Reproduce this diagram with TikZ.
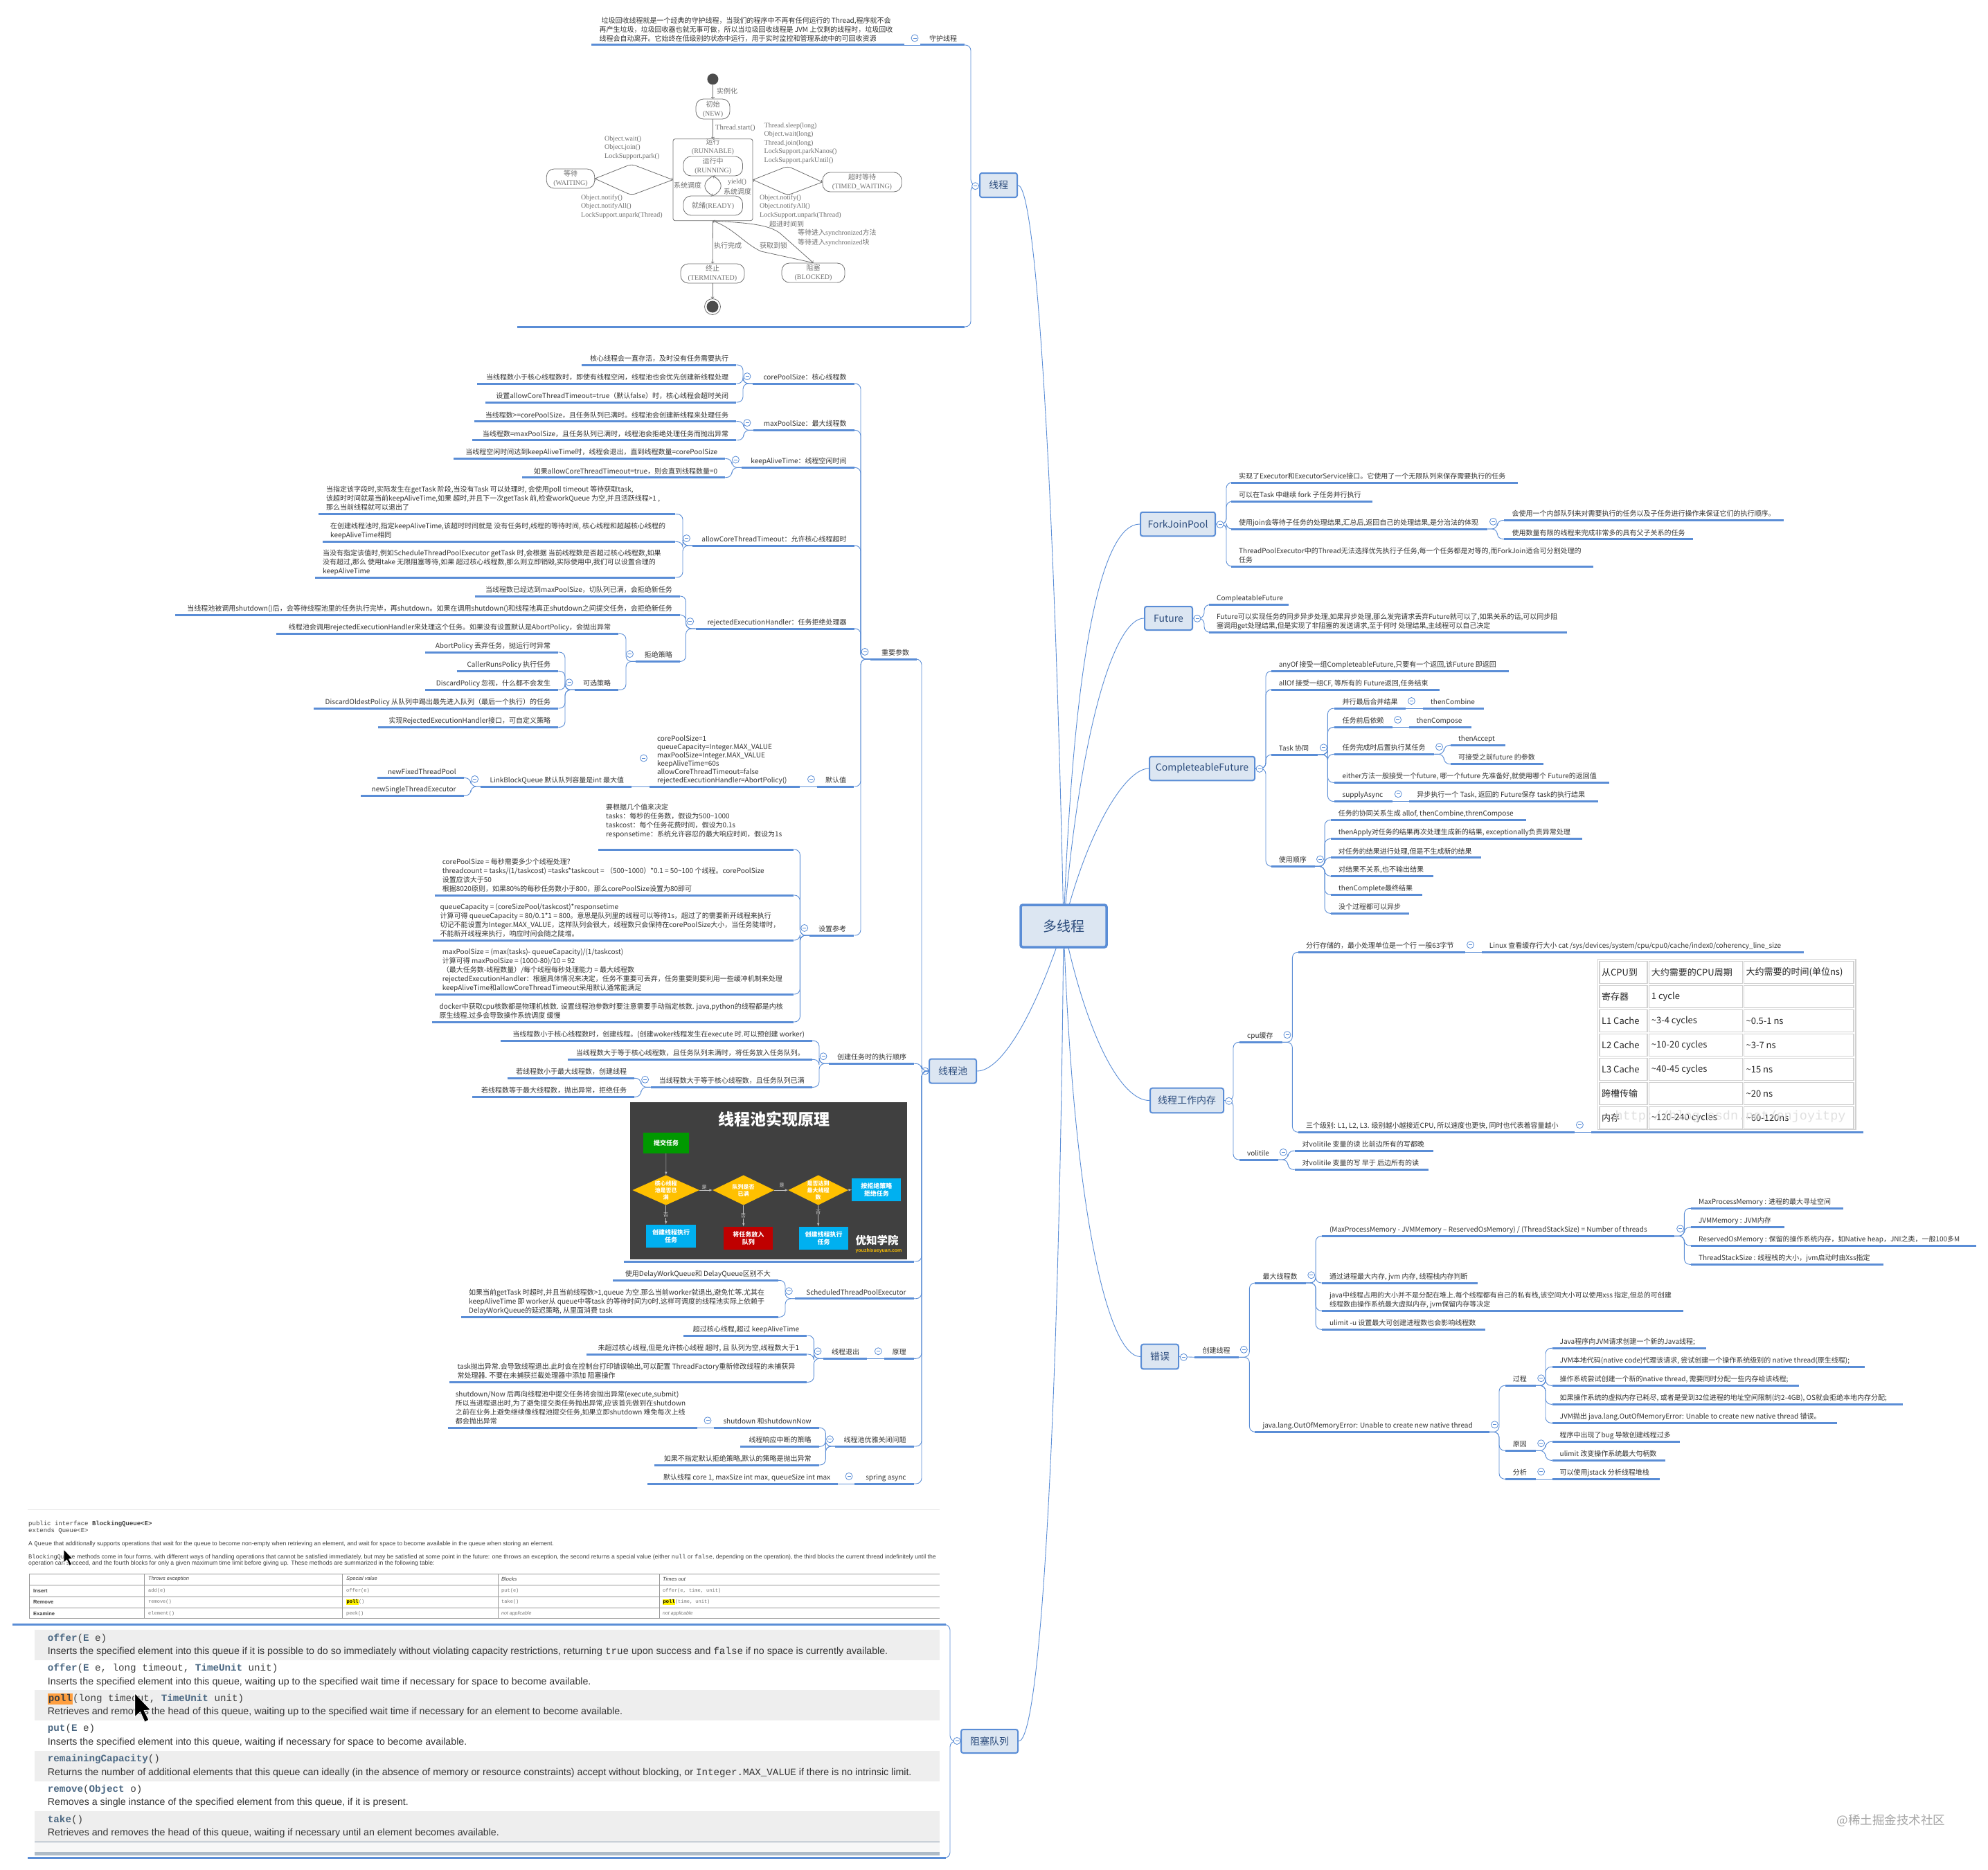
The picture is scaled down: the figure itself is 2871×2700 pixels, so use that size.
\documentclass[tikz,border=0pt]{standalone}
\usepackage{fontspec}
\setmainfont{Noto Sans CJK SC}
\setmonofont{Liberation Mono}
\newfontfamily\serifen{Liberation Serif}
\newfontfamily\sansen{Liberation Sans}
\usetikzlibrary{shapes.geometric}
\usetikzlibrary{positioning}

\definecolor{mapblue}{HTML}{5A8DD6}
\definecolor{boxblue}{HTML}{DCE6F2}
\definecolor{boxtext}{HTML}{2C4C7C}
\definecolor{stategray}{HTML}{707070}
\definecolor{imgdark}{HTML}{404040}
\definecolor{imgcyan}{HTML}{00B0F0}
\definecolor{imggold}{HTML}{FFC000}
\definecolor{docband}{HTML}{EEEEEE}
\definecolor{doclink}{HTML}{4A6782}

\newlength\tpcw
\newlength\tpcpad
\setlength\tpcpad{11pt}
\newcommand{\tpc}[6]{%
  \pgfmathsetlength\tpcw{#3-#2}%
  \node[topic,minimum width=\tpcw,anchor=south west] (#1) at (#2,#4)
    {\makebox[\dimexpr\tpcw-2\tpcpad\relax][#5]{\begin{tabular}{@{}l@{}}#6\end{tabular}}};
  \draw[uline] (#1.south west) -- (#1.south east);}
\newcommand{\foldm}[3]{\node[foldmark] (#1) at (#2,#3) {};}
\newcommand{\brl}[3]{\foreach \kid in {#3} {\draw[link] (#1) -- ++(-#2,0) |- (\kid.south east);}}
\newcommand{\brr}[3]{\foreach \kid in {#3} {\draw[link] (#1) -- ++(#2,0) |- (\kid.south west);}}
\newcommand{\lk}[1]{\textbf{\textcolor{doclink}{#1}}}
\newcommand{\hly}[1]{{\setlength\fboxsep{.5pt}\colorbox{yellow}{\textbf{\textcolor{black}{#1}}}}}
\newcommand{\pointer}[3]{\draw[cursormark,shift={(#1,#2)},scale=#3] (0,0) -- (0,.78) -- (.18,.62) -- (.33,.95) -- (.46,.88) -- (.31,.57) -- (.52,.55) -- cycle;}

\begin{document}
\begin{tikzpicture}[x=1pt,y=-1pt,
    topic/.style={inner xsep=\tpcpad,inner ysep=1.5pt,text=black!80,font=\fontsize{10}{13}\selectfont},
    uline/.style={draw=mapblue,line width=3pt},
    link/.style={draw=mapblue,line width=.9pt,rounded corners=8pt},
    foldmark/.style={circle,draw=mapblue,fill=white,line width=.8pt,minimum size=10pt,inner sep=0pt,
        path picture={\draw[mapblue,line width=.8pt] (path picture bounding box.center) ++(-2.5,0) -- ++(5,0);}},
    mainbox/.style={rectangle,rounded corners=3pt,draw=mapblue,fill=boxblue,line width=2pt,text=boxtext,
        inner sep=0pt,font=\fontsize{14}{16}\selectfont},
    stbox/.style={rectangle,rounded corners=11pt,draw=stategray,line width=.8pt,text=stategray,inner sep=0pt,
        align=center,font=\fontsize{10}{13}\selectfont},
    stlabel/.style={inner sep=0pt,text=stategray,align=left,font=\fontsize{10}{12.5}\selectfont},
    stline/.style={draw=stategray,line width=.8pt},
    imgbox/.style={rectangle,inner sep=0pt,text=white,align=center,font=\fontsize{9}{11}\selectfont\bfseries},
    imgdia/.style={diamond,aspect=2.2,fill=imggold,inner sep=0pt},
    imgtext/.style={inner sep=0pt,text=white,align=center,font=\fontsize{8}{10}\selectfont\bfseries},
    imgline/.style={draw=white!75!black,line width=.6pt,-latex},
    cpucell/.style={rectangle,draw=black!18,line width=1.2pt,inner xsep=3pt,inner ysep=0pt,minimum height=32.4pt,
        text=black!85,font=\fontsize{13}{15}\selectfont},
    jdtext/.style={inner sep=0pt,anchor=west,text=black!75,font=\sansen\fontsize{8.65}{10}\selectfont},
    jdcell/.style={inner sep=0pt,anchor=west,text=black!75,font=\sansen\fontsize{7.5}{9}\selectfont},
    jdcode/.style={inner sep=0pt,anchor=west,text=black!55,font=\ttfamily\fontsize{7}{9}\selectfont},
    jdrule/.style={draw=black!40,line width=1pt},
    doctitle/.style={inner sep=0pt,anchor=west,text=black!75,font=\ttfamily\fontsize{14.2}{16}\selectfont},
    docdesc/.style={inner sep=0pt,anchor=west,text=black!80,font=\sansen\fontsize{14.2}{16}\selectfont},
    cursormark/.style={fill=black,draw=white,line width=.8pt}]

    \useasboundingbox (0,0) rectangle (2871,2700);
    \fill[white] (0,0) rectangle (2871,2700);

    \node[mainbox,minimum width=54pt,minimum height=35pt] (thr) at (1442,267.5) {线程};
    \node[mainbox,minimum width=68pt,minimum height=35pt] (pool) at (1376,1547) {线程池};
    \node[mainbox,minimum width=82pt,minimum height=34pt] (queue) at (1429,2515) {阻塞队列};
    \node[mainbox,minimum width=108pt,minimum height=34.5pt] (fork) at (1701,757) {ForkJoinPool};
    \node[mainbox,minimum width=69pt,minimum height=34pt] (fut) at (1687.5,893) {Future};
    \node[mainbox,minimum width=152pt,minimum height=34.5pt] (cf) at (1736,1110) {CompleteableFuture};
    \node[mainbox,minimum width=106pt,minimum height=35.6pt] (mem) at (1714,1589.5) {线程工作内存};
    \node[mainbox,minimum width=54pt,minimum height=35.6pt] (err) at (1675,1959.5) {错误};
    \coordinate (hub) at (1536,1337.5);

    \draw[link] (hub) .. controls (1525,800) and (1500,268) .. (thr.east);
    \draw[link] (hub) .. controls (1500,1450) and (1450,1547) .. (pool.east);
    \draw[link] (hub) .. controls (1530,2000) and (1505,2515) .. (queue.east);
    \draw[link] (hub) .. controls (1550,950) and (1590,757) .. (fork.west);
    \draw[link] (hub) .. controls (1560,1050) and (1610,893) .. (fut.west);
    \draw[link] (hub) .. controls (1570,1200) and (1625,1110) .. (cf.west);
    \draw[link] (hub) .. controls (1570,1500) and (1620,1590) .. (mem.west);
    \draw[link] (hub) .. controls (1550,1750) and (1600,1960) .. (err.west);
    \node[mainbox,line width=3.5pt,minimum width=124pt,minimum height=61pt,font=\fontsize{20}{24}\selectfont] (multi) at (hub) {多线程};

    \tpc{daemon}{1329}{1393}{65}{r}{守护线程}
    \tpc{daemonText}{854.4}{1306}{65}{l}{\hspace{3pt}垃圾回收线程就是一个经典的守护线程，当我们的程序中不再有任何运行的 Thread,程序就不会\\再产生垃圾，垃圾回收器也就无事可做，所以当垃圾回收线程是 JVM 上仅剩的线程时，垃圾回收\\线程会自动离开。它始终在低级别的状态中运行，用于实时监控和管理系统中的可回收资源}
    \tpc{stateLine}{747}{1393}{472}{l}{}
    \draw[link] (daemon.south west) -- (daemonText.south east);
    \brl{thr.west}{12}{daemon,stateLine}
    \foldm{fDaemon}{1321}{55}
    \foldm{fThr}{1408.5}{268.7}

    \node[circle,fill=black!70,minimum size=16pt,inner sep=0pt] (stStart) at (1029.4,114.3) {};
    \node[stbox,minimum width=49pt,minimum height=29pt] (stNew) at (1029.5,157.5) {初始\\{\serifen (NEW)}};
    \node[stbox,rounded corners=3pt,minimum width=115pt,minimum height=118pt] (stRun) at (1029.5,259.7) {};
    \node[stlabel,align=center,anchor=north,font=\fontsize{10}{13}\selectfont] (stRunText) at (1029.5,200) {运行\\{\serifen (RUNNABLE)}};
    \node[stbox,minimum width=85.5pt,minimum height=28pt] (stRunning) at (1029.7,240) {运行中\\{\serifen (RUNNING)}};
    \node[stbox,minimum width=85.5pt,minimum height=28pt] (stReady) at (1029.7,297) {就绪{\serifen (READY)}};
    \node[stbox,minimum width=69.4pt,minimum height=28pt] (stWait) at (824,258) {等待\\{\serifen (WAITING)}};
    \node[stbox,minimum width=114pt,minimum height=28pt] (stTimed) at (1245,263) {超时等待\\{\serifen (TIMED\_WAITING)}};
    \node[stbox,minimum width=92pt,minimum height=28pt] (stTerm) at (1029,395) {终止\\{\serifen (TERMINATED)}};
    \node[stbox,minimum width=91pt,minimum height=28pt] (stBlock) at (1174.5,394) {阻塞\\{\serifen (BLOCKED)}};
    \node[circle,draw=stategray,line width=.8pt,minimum size=23pt,inner sep=0pt] (stEnd) at (1029,443) {};
    \node[circle,fill=black!70,minimum size=17pt,inner sep=0pt] (stEndDot) at (stEnd) {};

    \draw[stline,->] (stStart) -- (stNew);
    \draw[stline,->] (stNew) -- (stRun);
    \draw[stline,->] (stRun.south) -- (stTerm);
    \draw[stline,->] (stTerm) -- (stEnd);
    \draw[stline,->] (stRunning.south) .. controls (1014,262) and (1014,275) .. (stReady.north);
    \draw[stline,->] (stReady.north) .. controls (1045,275) and (1045,262) .. (stRunning.south);
    \draw[stline,->,rounded corners=6pt] (stRun.west) -- (912,282) -- (stWait.east);
    \draw[stline,->,rounded corners=6pt] (stWait.east) -- (912,237) -- (stRun.west);
    \draw[stline,->,rounded corners=6pt] (stRun.east) -- (1137.5,240) -- (stTimed.west);
    \draw[stline,->,rounded corners=6pt] (stTimed.west) -- (1137.5,282) -- (stRun.east);
    \draw[stline,->] (stRun.south) .. controls (1085,322) and (1115,325) .. (1130,340) -- (stBlock.north);
    \draw[stline,->] (stBlock.north) -- (1099,363) .. controls (1075,352) and (1060,330) .. (stRun.south);

    \node[stlabel,anchor=west] (labInst) at (1035,132) {实例化};
    \node[stlabel,anchor=west,font=\serifen\fontsize{10.5}{13}\selectfont] (labStart) at (1033,185) {Thread.start()};
    \node[stlabel,anchor=north west,font=\serifen\fontsize{10}{12.5}\selectfont] (labWaitIn) at (873,196) {Object.wait()\\Object.join()\\LockSupport.park()};
    \node[stlabel,anchor=north west,font=\serifen\fontsize{10}{12.5}\selectfont] (labWaitOut) at (839,281) {Object.notify()\\Object.notifyAll()\\LockSupport.unpark(Thread)};
    \node[stlabel,anchor=north west,font=\serifen\fontsize{10}{12.5}\selectfont] (labTimedIn) at (1103.5,177) {Thread.sleep(long)\\Object.wait(long)\\Thread.join(long)\\LockSupport.parkNanos()\\LockSupport.parkUntil()};
    \node[stlabel,anchor=north west,font=\serifen\fontsize{10}{12.5}\selectfont] (labTimedOut) at (1097,281) {Object.notify()\\Object.notifyAll()\\LockSupport.unpark(Thread)};
    \node[stlabel,anchor=west] (labSchedA) at (973,268) {系统调度};
    \node[stlabel,anchor=west,font=\serifen\fontsize{10}{12.5}\selectfont] (labYield) at (1051,263) {yield()};
    \node[stlabel,anchor=west] (labSchedB) at (1045,277) {系统调度};
    \node[stlabel,anchor=west] (labOver) at (1111,324) {超进时间到};
    \node[stlabel,anchor=north west,font=\fontsize{10}{14}\selectfont] (labSync) at (1152,331) {等待进入{\serifen synchronized}方法\\等待进入{\serifen synchronized}块};
    \node[stlabel,anchor=west] (labDone) at (1031,355) {执行完成};
    \node[stlabel,anchor=west] (labLock) at (1097,355) {获取到锁};

    \tpc{args}{1257}{1324}{952}{r}{重要参数}
    \tpc{coreSize}{1087}{1233.5}{554}{r}{corePoolSize：核心线程数}
    \tpc{coreA}{840}{1063}{527}{r}{核心线程会一直存活，及时没有任务需要执行}
    \tpc{coreB}{689}{1063}{554}{r}{当线程数小于核心线程数时，即使有线程空闲，线程池也会优先创建新线程处理}
    \tpc{coreC}{701}{1063}{581}{r}{设置allowCoreThreadTimeout=true（默认false）时，核心线程会超时关闭}
    \tpc{maxSize}{1088}{1233.5}{621.4}{r}{maxPoolSize：最大线程数}
    \tpc{maxA}{685}{1063}{608.6}{r}{当线程数>=corePoolSize，且任务队列已满时。线程池会创建新线程来处理任务}
    \tpc{maxB}{682.4}{1063}{635.7}{r}{当线程数=maxPoolSize，且任务队列已满时，线程池会拒绝处理任务而抛出异常}
    \tpc{keep}{1071}{1233.5}{675.4}{r}{keepAliveTime：线程空闲时间}
    \tpc{keepA}{655}{1047}{662.5}{r}{当线程空闲时间达到keepAliveTime时，线程会退出，直到线程数量=corePoolSize}
    \tpc{keepB}{754}{1047}{689.6}{r}{如果allowCoreThreadTimeout=true，则会直到线程数量=0}
    \tpc{allow}{1000}{1233.5}{788}{r}{allowCoreThreadTimeout：允许核心线程超时}
    \tpc{allowA}{460}{975}{742.5}{l}{当指定该字段时,实际发生在getTask 阶段,当没有Task 可以处理时, 会使用poll timeout 等待获取task,\\该超时时间就是当前keepAliveTime,如果 超时,并且下一次getTask 前,检查workQueue 为空,并且活跃线程>1 ,\\那么当前线程就可以退出了}
    \tpc{allowB}{466}{975}{782.5}{l}{在创建线程池时,指定keepAliveTime,该超时时间就是 没有任务时,线程的等待时间, 核心线程和超越核心线程的\\keepAliveTime相同}
    \tpc{allowC}{455}{975}{834}{l}{当没有指定该值时,例如ScheduleThreadPoolExecutor getTask 时,会根据 当前线程数是否超过核心线程数,如果\\没有超过,那么 使用take 无限阻塞等待,如果 超过核心线程数,那么则立即销毁,实际使用中,我们可以设置合理的\\keepAliveTime}
    \tpc{reject}{1004.5}{1233.5}{908}{r}{rejectedExecutionHandler：任务拒绝处理器}
    \tpc{rejectA}{685.7}{981.7}{861}{r}{当线程数已经达到maxPoolSize，切队列已满，会拒绝新任务}
    \tpc{rejectB}{253}{981.7}{888}{r}{当线程池被调用shutdown()后，会等待线程池里的任务执行完毕，再shutdown。如果在调用shutdown()和线程池真正shutdown之间提交任务，会拒绝新任务}
    \tpc{refuse}{918}{981.7}{955.4}{r}{拒绝策略}
    \tpc{refuseA}{399.4}{893}{915.4}{r}{线程池会调用rejectedExecutionHandler来处理这个任务。如果没有设置默认是AbortPolicy，会抛出异常}
    \tpc{option}{830}{893}{996.4}{r}{可选策略}
    \tpc{optA}{614}{806}{942}{r}{AbortPolicy 丢弃任务，抛运行时异常}
    \tpc{optB}{659.7}{806}{969.3}{r}{CallerRunsPolicy 执行任务}
    \tpc{optC}{614}{806}{996.4}{r}{DiscardPolicy 忽视，什么都不会发生}
    \tpc{optD}{452.8}{806}{1023}{r}{DiscardOldestPolicy 从队列中踢出最先进入队列（最后一个执行）的任务}
    \tpc{optE}{545.8}{806}{1050.4}{r}{实现RejectedExecutionHandler接口，可自定义策略}
    \tpc{defaults}{1179.6}{1233}{1136}{r}{默认值}
    \tpc{defaultVals}{937.8}{1155}{1136}{l}{corePoolSize=1\\[-1pt]queueCapacity=Integer.MAX\_VALUE\\[-1pt]maxPoolSize=Integer.MAX\_VALUE\\[-1pt]keepAliveTime=60s\\[-1pt]allowCoreThreadTimeout=false\\[-1pt]rejectedExecutionHandler=AbortPolicy()}
    \tpc{linked}{693.9}{912}{1136}{r}{LinkBlockQueue 默认队列容量是int 最大值}
    \tpc{fixedPool}{545}{669.4}{1123.6}{r}{newFixedThreadPool}
    \tpc{singlePool}{521.4}{669.4}{1149.3}{r}{newSingleThreadExecutor}
    \tpc{setting}{1169.4}{1233}{1351}{r}{设置参考}
    \tpc{setA}{864}{1146}{1227}{l}{要根据几个值来决定\\tasks：每秒的任务数，假设为500\textasciitilde1000\\taskcost：每个任务花费时间，假设为0.1s\\responsetime：系统允许容忍的最大响应时间，假设为1s\\~}
    \tpc{setB}{627.6}{1146}{1293}{l}{corePoolSize = 每秒需要多少个线程处理?\\threadcount = tasks/(1/taskcost) =tasks*taskcout = （500\textasciitilde1000）*0.1 = 50\textasciitilde100 个线程。corePoolSize\\设置应该大于50\\根据8020原则，如果80\%的每秒任务数小于800，那么corePoolSize设置为80即可}
    \tpc{setC}{624.5}{1146}{1358}{l}{queueCapacity = (coreSizePool/taskcost)*responsetime\\计算可得 queueCapacity = 80/0.1*1 = 800。意思是队列里的线程可以等待1s，超过了的需要新开线程来执行\\切记不能设置为Integer.MAX\_VALUE，这样队列会很大，线程数只会保持在corePoolSize大小，当任务陡增时，\\不能新开线程来执行，响应时间会随之陡增。}
    \tpc{setD}{627.6}{1146}{1436}{l}{maxPoolSize = (max(tasks)- queueCapacity)/(1/taskcost)\\计算可得 maxPoolSize = (1000-80)/10 = 92\\（最大任务数-线程数量）/每个线程每秒处理能力 = 最大线程数\\rejectedExecutionHandler：根据具体情况来决定，任务不重要可丢弃，任务重要则要利用一些缓冲机制来处理\\keepAliveTime和allowCoreThreadTimeout采用默认通常能满足}
    \tpc{setE}{623.5}{1146}{1476}{l}{docker中获取cpu核数都是物理机核数. 设置线程池参数时要注意需要手动指定核数. java,python的线程都是内核\\原生线程.过多会导致操作系统调度 缓慢}

    \brl{pool.west}{10}{args}
    \brl{args.south west}{14}{coreSize,maxSize,keep,allow,reject,defaults,setting}
    \brl{coreSize.south west}{14}{coreA,coreB,coreC}
    \brl{maxSize.south west}{14}{maxA,maxB}
    \brl{keep.south west}{14}{keepA,keepB}
    \brl{allow.south west}{14}{allowA,allowB,allowC}
    \brl{reject.south west}{14}{rejectA,rejectB,refuse}
    \brl{refuse.south west}{14}{refuseA,option}
    \brl{option.south west}{14}{optA,optB,optC,optD,optE}
    \brl{setting.south west}{14}{setA,setB,setC,setD,setE}
    \brl{linked.south west}{14}{fixedPool,singlePool}
    \draw[link] (defaults.south west) -- (defaultVals.south east);
    \draw[link] (defaultVals.south west) -- (linked.south east);

    \foldm{fCore}{1079}{543.6}
    \foldm{fMax}{1079}{610.7}
    \foldm{fKeep}{1062.4}{664}
    \foldm{fAllow}{991.5}{777.5}
    \foldm{fReject}{996.7}{897.5}
    \foldm{fRefuse}{909.5}{944.6}
    \foldm{fOption}{822}{985.7}
    \foldm{fArgs}{1249}{941.4}
    \foldm{fDefaults}{1171.4}{1125.4}
    \foldm{fVals}{929.6}{1095}
    \foldm{fLinked}{685.7}{1125.4}
    \foldm{fSetting}{1161.7}{1340.4}
    \foldm{fPool}{1336}{1547}

    \tpc{order}{1197}{1320}{1536.3}{r}{创建任务时的执行顺序}
    \tpc{orderA}{722.5}{1172.7}{1503.3}{r}{当线程数小于核心线程数时，创建线程。(创建woker线程发生在execute 时.可以预创建 worker)}
    \tpc{orderB}{819.6}{1172.7}{1530.3}{r}{当线程数大于等于核心线程数，且任务队列未满时，将任务放入任务队列。}
    \tpc{orderC}{939.7}{1172.7}{1570.3}{r}{当线程数大于等于核心线程数，且任务队列已满}
    \tpc{orderD}{732.5}{915.8}{1557.3}{r}{若线程数小于最大线程数，创建线程}
    \tpc{orderE}{682.3}{915.8}{1584.3}{r}{若线程数等于最大线程数，抛出异常，拒绝任务}
    \tpc{imgLine}{900.5}{1320}{1822}{l}{}
    \brl{order.south west}{14}{orderA,orderB,orderC}
    \brl{orderC.south west}{14}{orderD,orderE}
    \foldm{fOrder}{1189}{1525.7}
    \foldm{fOrderC}{931.6}{1559.3}

    \node[rectangle,fill=imgdark,minimum width=400pt,minimum height=227pt,inner sep=0pt] (imgPanel) at (1110,1705.5) {};
    \node[inner sep=0pt,text=white,font=\fontsize{23}{26}\selectfont\bfseries] (imgTitle) at (1117.7,1616.7) {线程池实现原理};
    \node[imgbox,fill=green!60!black,minimum width=66pt,minimum height=30pt] (imgSubmit) at (962,1650.7) {提交任务};
    \node[imgdia,minimum width=96.7pt,minimum height=43.3pt,label={[imgtext]center:{核心线程\\池是否已\\满}}] (imgCore) at (961.7,1719) {};
    \node[imgdia,minimum width=89pt,minimum height=43.3pt,label={[imgtext]center:{队列是否\\已满}}] (imgFull) at (1073.7,1719) {};
    \node[imgdia,minimum width=86.7pt,minimum height=43.3pt,label={[imgtext]center:{是否达到\\最大线程\\数}}] (imgMax) at (1181.7,1719) {};
    \node[imgbox,fill=imgcyan,minimum width=71pt,minimum height=33pt] (imgReject) at (1265.8,1718.5) {按拒绝策略\\拒绝任务};
    \node[imgbox,fill=imgcyan,minimum width=71.4pt,minimum height=33.3pt] (imgRunA) at (969,1785.3) {创建线程执行\\任务};
    \node[imgbox,fill=red!75!black,minimum width=71pt,minimum height=33.3pt] (imgQueue) at (1080.8,1788.3) {将任务放入\\队列};
    \node[imgbox,fill=imgcyan,minimum width=70.7pt,minimum height=33.3pt] (imgRunB) at (1189.7,1788.3) {创建线程执行\\任务};
    \draw[imgline] (imgSubmit) -- (imgCore);
    \draw[imgline] (imgCore) -- (imgFull);
    \draw[imgline] (imgFull) -- (imgMax);
    \draw[imgline] (imgMax) -- (imgReject);
    \draw[imgline] (imgCore.south) -- (imgCore.south |- imgRunA.north);
    \draw[imgline] (imgFull.south) -- (imgFull.south |- imgQueue.north);
    \draw[imgline] (imgMax.south) -- (imgMax.south |- imgRunB.north);
    \foreach \i/\x/\y/\word in {1/1017/1715/是,2/1129/1712/是,3/961.7/1755/否,4/1073.3/1756/否,5/1181.7/1750.7/否}
        \node[fill=imgdark,inner sep=.5pt,text=white!85!black,font=\fontsize{7}{8}\selectfont] (imgWord\i) at (\x,\y) {\word};
    \node[inner sep=0pt,text=white,font=\fontsize{15.5}{18}\selectfont\bfseries] (imgBrand) at (1266.7,1792) {优知学院};
    \node[inner sep=0pt,text=imggold,font=\sansen\fontsize{7}{8}\selectfont\bfseries] (imgSite) at (1269,1806.7) {youzhixueyuan.com};

    \tpc{sched}{1148}{1319.3}{1875.7}{r}{ScheduledThreadPoolExecutor}
    \tpc{schedA}{885.4}{1123.7}{1849.3}{r}{使用DelayWorkQueue和 DelayQueue区别不大}
    \tpc{schedB}{666}{1123.7}{1902.3}{l}{如果当前getTask 时超时,并且当前线程数>1,queue 为空.那么当前worker就退出,避免忙等.尤其在\\keepAliveTime 即 worker从 queue中等task 的等待时间为0时.这样可调度的线程池实际上依赖于\\DelayWorkQueue的延迟策略, 从里面消费 task}
    \tpc{basis}{1276.6}{1319.3}{1962.3}{r}{原理}
    \tpc{quit}{1189.3}{1252}{1962.3}{r}{线程退出}
    \tpc{quitA}{987.3}{1165}{1929}{r}{超过核心线程,超过 keepAliveTime}
    \tpc{quitB}{847.3}{1165}{1956}{r}{未超过核心线程,但是允许核心线程 超时, 且 队列为空,线程数大于1}
    \tpc{quitC}{649.4}{1165}{1996.3}{l}{task抛出异常.会导致线程退出.此时会在控制台打印错误输出,可以配置 ThreadFactory重新修改线程的未捕获异\\常处理器. 不要在未捕获拦截处理器中添加 阻塞操作}
    \tpc{grace}{1206.3}{1319.3}{2089}{r}{线程池优雅关闭问题}
    \tpc{graceA}{1031}{1182.4}{2062.3}{r}{shutdown 和shutdownNow}
    \tpc{graceText}{646.6}{1006.6}{2062.3}{l}{shutdown/Now 后再向线程池中提交任务将会抛出异常(execute,submit)\\所以当进程退出时,为了避免提交类任务抛出异常,应该首先做到在shutdown\\之前在业务上避免继续像线程池提交任务,如果立即shutdown 难免每次上线\\都会抛出异常}
    \tpc{graceB}{1069}{1182.4}{2089.3}{r}{线程响应中断的策略}
    \tpc{graceC}{945}{1182.4}{2116}{r}{如果不指定默认拒绝策略,默认的策略是抛出异常}
    \tpc{spring}{1234.3}{1319.3}{2143}{r}{spring async}
    \tpc{springA}{935.4}{1210}{2143}{r}{默认线程 core 1, maxSize int max, queueSize int max}
    \brl{pool.west}{10}{order,imgLine,sched,basis,grace,spring}
    \brl{sched.south west}{14}{schedA,schedB}
    \draw[link] (basis.south west) -- (quit.south east);
    \brl{quit.south west}{14}{quitA,quitB,quitC}
    \brl{grace.south west}{14}{graceA,graceB,graceC}
    \draw[link] (graceA.south west) -- (graceText.south east);
    \draw[link] (spring.south west) -- (springA.south east);
    \foldm{fSched}{1139.3}{1864.7}
    \foldm{fBasis}{1268.3}{1951.7}
    \foldm{fQuit}{1181}{1951.7}
    \foldm{fGrace}{1198.5}{2078.7}
    \foldm{fGraceA}{1022}{2051.7}
    \foldm{fSpring}{1226}{2132.3}

    \draw[draw=black!8,line width=1pt] (40,2180.5) -- (1357,2180.5);
    \node[jdcode,text=black!75,font=\ttfamily\fontsize{9}{10}\selectfont] (jdHeadA) at (41,2201) {public interface \textbf{BlockingQueue<E>}};
    \node[jdcode,text=black!75,font=\ttfamily\fontsize{9}{10}\selectfont] (jdHeadB) at (41,2211) {extends Queue<E>};
    \node[jdtext] (jdParaA) at (41,2230) {A {\ttfamily Queue} that additionally supports operations that wait for the queue to become non-empty when retrieving an element, and wait for space to become available in the queue when storing an element.};
    \node[jdtext] (jdParaB) at (41,2249) {{\ttfamily BlockingQueue} methods come in four forms, with different ways of handling operations that cannot be satisfied immediately, but may be satisfied at some point in the future: one throws an exception, the second returns a special value (either {\ttfamily null} or {\ttfamily false}, depending on the operation), the third blocks the current thread indefinitely until the};
    \node[jdtext] (jdParaC) at (41,2258.6) {operation can succeed, and the fourth blocks for only a given maximum time limit before giving up. These methods are summarized in the following table:};
    \foreach \y in {2273,2289.3,2306,2322,2337.7} \draw[jdrule] (42,\y) -- (1357,\y);
    \foreach \x in {42,208,494,719,952} \draw[jdrule] (\x,2273) -- (\x,2337.7);
    \foreach \i/\word/\x in {a/Throws exception/214,b/Special value/500,c/Blocks/724,d/Times out/957}
        \node[jdcell,font=\sansen\itshape\fontsize{7.5}{9}\selectfont] (jdHead\i) at (\x,2281) {\word};
    \foreach \i/\y/\word/\ca/\cb/\cc/\cd in {1/2298/Insert/add(e)/offer(e)/put(e)/{offer(e, time, unit)},
            2/2314/Remove/remove()/\hly{poll}()/take()/{\hly{poll}(time, unit)},
            3/2330.6/Examine/element()/peek()/{\sansen\itshape not applicable}/{\sansen\itshape not applicable}}{
        \node[jdcell,font=\sansen\bfseries\fontsize{7.5}{9}\selectfont] (jdRow\i) at (48,\y) {\word};
        \node[jdcode] (jdRow\i a) at (214,\y) {\ca};
        \node[jdcode] (jdRow\i b) at (500,\y) {\cb};
        \node[jdcode] (jdRow\i c) at (724,\y) {\cc};
        \node[jdcode] (jdRow\i d) at (957,\y) {\cd};
    }

    \foreach \y in {2354,2441,2529,2616} \fill[docband] (50,\y) rectangle (1357,\y+44);
    \fill[black!3] (50,2660.5) rectangle (1357,2675);
    \fill[doclink!45] (50,2675.4) rectangle (1357,2680);
    \draw[doclink!70,line width=.8pt] (50,2660.5) -- (1357,2660.5);
    \foreach \i/\yt/\yd/\doct/\docd in {1/2366.4/2385.7/{\lk{offer}(\lk{E} e)}/{Inserts the specified element into this queue if it is possible to do so immediately without violating capacity restrictions, returning {\ttfamily true} upon success and {\ttfamily false} if no space is currently available.},
            2/2410/2429.3/{\lk{offer}(\lk{E} e, long timeout, \lk{TimeUnit} unit)}/{Inserts the specified element into this queue, waiting up to the specified wait time if necessary for space to become available.},
            3/2454/2473.2/{{\setlength\fboxsep{1pt}\colorbox{orange!75}{\textbf{poll}}}(long timeout, \lk{TimeUnit} unit)}/{Retrieves and removes the head of this queue, waiting up to the specified wait time if necessary for an element to become available.},
            4/2497/2517/{\lk{put}(\lk{E} e)}/{Inserts the specified element into this queue, waiting if necessary for space to become available.},
            5/2541/2560.5/{\lk{remainingCapacity}()}/{Returns the number of additional elements that this queue can ideally (in the absence of memory or resource constraints) accept without blocking, or {\ttfamily Integer.MAX\_VALUE} if there is no intrinsic limit.},
            6/2585/2604/{\lk{remove}(\lk{Object} o)}/{Removes a single instance of the specified element from this queue, if it is present.},
            7/2629/2648/{\lk{take}()}/{Retrieves and removes the head of this queue, waiting if necessary until an element becomes available.}}{
        \node[doctitle] (docName\i) at (68.75,\yt) {\doct};
        \node[docdesc] (docText\i) at (68.75,\yd) {\docd};
    }
    \pointer{92}{2237.6}{25}
    \pointer{194.6}{2445.5}{44}

    \tpc{docTop}{18}{1366}{2346.5}{l}{}
    \tpc{docBottom}{40}{1366}{2683.5}{l}{}
    \brl{queue.west}{15}{docTop,docBottom}
    \foldm{fQueue}{1382}{2514.5}

    \tpc{forkA}{1778}{2192}{697}{l}{实现了Executor和ExecutorService接口。它使用了一个无限队列来保存需要执行的任务}
    \tpc{forkB}{1778}{1981.6}{724.3}{l}{可以在Task 中继续 fork 子任务并行执行}
    \tpc{forkC}{1778}{2148}{764}{l}{使用join会等待子任务的处理结果,汇总后,返回自己的处理结果,是分治法的体现}
    \tpc{forkD}{2172.3}{2575.4}{751.5}{l}{会使用一个内部队列来对需要执行的任务以及子任务进行操作来保证它们的执行顺序。}
    \tpc{forkE}{2172.3}{2445}{778.6}{l}{使用数量有限的线程来完成非常多的具有父子关系的任务}
    \tpc{forkF}{1778}{2300.5}{818}{l}{ThreadPoolExecutor中的Thread无法选择优先执行子任务,每一个任务都是对等的,而ForkJoin适合可分割处理的\\任务}
    \brr{fork.east}{15}{forkA,forkB,forkC,forkF}
    \brr{forkC.south east}{14}{forkD,forkE}
    \foldm{fFork}{1762}{757.6}
    \foldm{fForkC}{2156.4}{753.4}

    \tpc{futA}{1746}{1861}{873.5}{l}{CompleatableFuture}
    \tpc{futB}{1746}{2263}{913.3}{l}{Future可以实现任务的同步异步处理,如果异步处理,那么发完请求丢弃Future就可以了,如果关系的话,可以同步阻\\塞调用get处理结果,但是实现了非阻塞的发送请求,至于何时 处理结果,主线程可以自己决定}
    \brr{fut.east}{16}{futA,futB}
    \foldm{fFut}{1729}{893.4}

    \tpc{anyOf}{1835.6}{2178.7}{969.2}{l}{anyOf 接受一组CompleteableFuture,只要有一个返回,该Future 即返回}
    \tpc{allOf}{1835.6}{2079}{996}{l}{allOf 接受一组CF, 等所有的 Future返回,任务结束}
    \tpc{taskCo}{1835.6}{1903}{1090}{l}{Task 协同}
    \tpc{coA}{1927.4}{2030}{1023.2}{l}{并行最后合并结果}
    \tpc{coAa}{2055}{2142.3}{1023.2}{l}{thenCombine}
    \tpc{coB}{1927.4}{2010.3}{1050.4}{l}{任务前后依赖}
    \tpc{coBa}{2034.5}{2125}{1050.4}{l}{thenCompose}
    \tpc{coC}{1927.4}{2071}{1089.4}{l}{任务完成时后置执行某任务}
    \tpc{coCa}{2095}{2173.6}{1076.4}{l}{thenAccept}
    \tpc{coCb}{2095}{2229}{1103.5}{l}{可接受之前future 的参数}
    \tpc{coD}{1927.4}{2323.4}{1130.3}{l}{either方法一般接受一个future, 哪一个future 先准备好,就使用哪个 Future的返回值}
    \tpc{coE}{1927.4}{2011}{1157.5}{l}{supplyAsync}
    \tpc{coEa}{2035.2}{2307.5}{1157.5}{l}{异步执行一个 Task, 返回的 Future保存 task的执行结果}
    \tpc{useOrder}{1835.6}{1898.7}{1251.3}{l}{使用顺序}
    \tpc{useA}{1921.7}{2203.5}{1184.3}{l}{任务的协同关系生成 allof, thenCombine,threnCompose}
    \tpc{useB}{1921.7}{2284.5}{1211.5}{l}{thenApply对任务的结果再次处理生成新的结果, exceptionally负责异常处理}
    \tpc{useC}{1921.7}{2139}{1238.6}{l}{对任务的结果进行处理,但是不生成新的结果}
    \tpc{useD}{1922}{2069.5}{1265.3}{l}{对结果不关系,也不输出结果}
    \tpc{useE}{1922}{2053.3}{1292.3}{l}{thenComplete最终结果}
    \tpc{useF}{1922}{2035}{1319.3}{l}{没个过程都可以异步}
    \brr{cf.east}{15}{anyOf,allOf,taskCo,useOrder}
    \brr{taskCo.south east}{14}{coA,coB,coC,coD,coE}
    \brr{coC.south east}{14}{coCa,coCb}
    \brr{useOrder.south east}{14}{useA,useB,useC,useD,useE,useF}
    \draw[link] (coA.south east) -- (coAa.south west);
    \draw[link] (coB.south east) -- (coBa.south west);
    \draw[link] (coE.south east) -- (coEa.south west);
    \foldm{fCf}{1819}{1110.4}
    \foldm{fTaskCo}{1911.5}{1079.8}
    \foldm{fCoA}{2038.4}{1012.5}
    \foldm{fCoB}{2018.6}{1039.6}
    \foldm{fCoC}{2078.5}{1078.7}
    \foldm{fCoE}{2019.2}{1146.8}
    \foldm{fUse}{1906.4}{1241}

    \tpc{cpuCache}{1790}{1852}{1505.3}{l}{cpu缓存}
    \tpc{cacheLine}{1875}{2115.8}{1375.3}{l}{分行存储的，最小处理单位是一个行 一般63字节}
    \tpc{cacheSize}{2139.6}{2605}{1375.3}{l}{Linux 查看缓存行大小 cat /sys/devices/system/cpu/cpu0/cache/index0/coherency\_line\_size}
    \tpc{cacheLevel}{1875}{2273.7}{1635.3}{l}{三个级别: L1, L2, L3. 级别越小越接近CPU, 所以速度也更快, 同时也代表着容量越小}
    \tpc{cacheTable}{2298}{2690.5}{1635.3}{l}{}
    \tpc{volatileVar}{1790}{1845.6}{1675}{l}{volitile}
    \tpc{volA}{1869.5}{2070}{1662.3}{l}{对volitile 变量的读 比前边所有的写都晚}
    \tpc{volB}{1869.5}{2063}{1689.3}{l}{对volitile 变量的写 早于 后边所有的读}
    \brr{mem.east}{13}{cpuCache,volatileVar}
    \brr{cpuCache.south east}{14}{cacheLine,cacheLevel}
    \brr{volatileVar.south east}{14}{volA,volB}
    \draw[link] (cacheLine.south east) -- (cacheSize.south west);
    \draw[link] (cacheLevel.south east) -- (cacheTable.south west);
    \foldm{fMem}{1774.7}{1590.3}
    \foldm{fCpu}{1859}{1494.7}
    \foldm{fLine}{2123.5}{1364.7}
    \foldm{fLevel}{2281.4}{1624.7}
    \foldm{fVol}{1853.3}{1664.3}

    \draw[draw=black!18,line width=1.2pt] (2307.4,1385.3) rectangle (2680,1631.3);
    \foreach \i/\ca/\cb/\cc in {0/从CPU到/大约需要的CPU周期/大约需要的时间(单位ns),1/寄存器/1 cycle/{},2/L1 Cache/\textasciitilde3-4 cycles/\textasciitilde0.5-1 ns,
            3/L2 Cache/\textasciitilde10-20 cycles/\textasciitilde3-7 ns,4/L3 Cache/\textasciitilde40-45 cycles/\textasciitilde15 ns,5/跨槽传输/{}/\textasciitilde20 ns,6/内存/\textasciitilde120-240 cycles/\textasciitilde60-120ns}{
        \pgfmathsetmacro\rowy{1404.5+35*\i}
        \node[cpucell,minimum width=69pt] (cpu\i a) at (2344.5,\rowy) {\makebox[63pt][l]{\ca}};
        \node[cpucell,minimum width=134.7pt] (cpu\i b) at (2449.2,\rowy) {\makebox[128.7pt][l]{\cb}};
        \node[cpucell,minimum width=158.4pt] (cpu\i c) at (2597.8,\rowy) {\makebox[152.4pt][l]{\cc}};
    }
    \node[inner sep=0pt,text=black!12,font=\ttfamily\fontsize{18.5}{20}\selectfont] (cpuMark) at (2499,1613) {http://blog.csdn.net/enjoyitpy};

    \tpc{create}{1725.3}{1789}{1960.3}{l}{创建线程}
    \tpc{maxThread}{1812.3}{1885.7}{1853}{l}{最大线程数}
    \tpc{formula}{1908.8}{2418}{1785.3}{l}{(MaxProcessMemory - JVMMemory – ReservedOsMemory) / (ThreadStackSize) = Number of threads}
    \tpc{fmA}{2441.8}{2662}{1745.3}{l}{MaxProcessMemory : 进程的最大寻址空间}
    \tpc{fmB}{2441.8}{2576.6}{1772.3}{l}{JVMMemory : JVM内存}
    \tpc{fmC}{2441.8}{2854}{1799.3}{l}{ReservedOsMemory : 保留的操作系统内存，如Native heap，JNI之类，一般100多M}
    \tpc{fmD}{2441.8}{2720}{1826.3}{l}{ThreadStackSize : 线程栈的大小，jvm启动时由Xss指定}
    \tpc{byMem}{1908.8}{2133.8}{1853}{l}{通过进程最大内存, jvm 内存, 线程栈内存判断}
    \tpc{javaStack}{1908.8}{2430.6}{1893.3}{l}{java中线程占用的大小并不是分配在堆上.每个线程都有自己的私有栈,该空间大小可以使用xss 指定,但总的可创建\\线程数由操作系统最大虚拟内存, jvm保留内存等决定}
    \tpc{ulimitU}{1908.8}{2145}{1920.3}{l}{ulimit -u 设置最大可创建进程数也会影响线程数}
    \tpc{oom}{1812.3}{2150.6}{2068.3}{l}{java.lang.OutOfMemoryError: Unable to create new native thread}
    \tpc{oomProc}{2173.7}{2217.6}{2001.3}{l}{过程}
    \tpc{procA}{2241.5}{2463.3}{1947.3}{l}{Java程序向JVM请求创建一个新的Java线程;}
    \tpc{procB}{2241.5}{2693}{1974.3}{l}{JVM本地代码(native code)代理该请求, 尝试创建一个操作系统级别的 native thread(原生线程);}
    \tpc{procC}{2241.5}{2597.3}{2001.3}{l}{操作系统尝试创建一个新的native thread, 需要同时分配一些内存给该线程;}
    \tpc{procD}{2241.5}{2747.3}{2028.3}{l}{如果操作系统的虚拟内存已耗尽, 或者是受到32位进程的地址空间限制(约2-4GB), OS就会拒绝本地内存分配;}
    \tpc{procE}{2241.5}{2653}{2055.3}{l}{JVM抛出 java.lang.OutOfMemoryError: Unable to create new native thread 错误。}
    \tpc{oomCause}{2173.7}{2217.6}{2095.3}{l}{原因}
    \tpc{causeA}{2241.5}{2425.8}{2082.3}{l}{程序中出现了bug 导致创建线程过多}
    \tpc{causeB}{2241.5}{2404.3}{2109.3}{l}{ulimit 改变操作系统最大句柄数}
    \tpc{oomCheck}{2173.7}{2217.6}{2136.3}{l}{分析}
    \tpc{checkA}{2241.5}{2396.3}{2136.3}{l}{可以使用jstack 分析线程堆栈}
    \draw[link] (err.east) -- (create.south west);
    \brr{create.south east}{15}{maxThread,oom}
    \brr{maxThread.south east}{14}{formula,byMem,javaStack,ulimitU}
    \brr{formula.south east}{14}{fmA,fmB,fmC,fmD}
    \brr{oom.south east}{14}{oomProc,oomCause,oomCheck}
    \brr{oomProc.south east}{14}{procA,procB,procC,procD,procE}
    \brr{oomCause.south east}{14}{causeA,causeB}
    \draw[link] (oomCheck.south east) -- (checkA.south west);
    \foldm{fErr}{1709.4}{1960.3}
    \foldm{fCreate}{1796.3}{1949.3}
    \foldm{fMaxThread}{1893.7}{1841.7}
    \foldm{fFormula}{2426.6}{1774.7}
    \foldm{fOom}{2158.5}{2057.7}
    \foldm{fProc}{2225.6}{1990.7}
    \foldm{fCause}{2225.6}{2084.7}
    \foldm{fCheck}{2225.6}{2125.7}

    \node[inner sep=0pt,text=black!35,font=\fontsize{17.5}{20}\selectfont] (siteMark) at (2731,2629.5) {@稀土掘金技术社区};
\end{tikzpicture}
\end{document}
